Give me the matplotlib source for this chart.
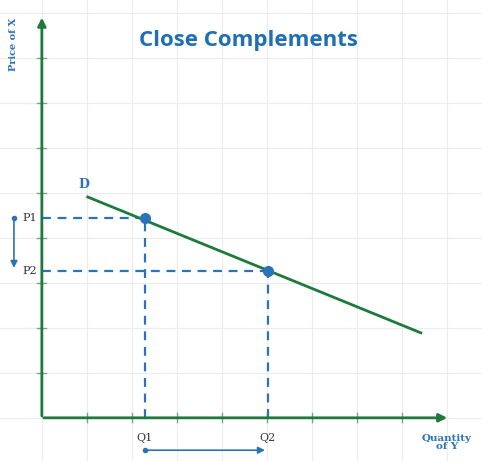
import matplotlib
matplotlib.use('Agg')
import matplotlib.pyplot as plt

# demand curve end points and the two marked points (units of grid squares)
demand_x = [1.02, 8.42]
demand_y = [4.91, 1.89]
point_q = [2.29, 5.02]
point_p = [4.44, 3.27]
q_labels = ['Q1', 'Q2']
p_labels = ['P1', 'P2']

green = '#1e7a3c'
blue = '#2a73b8'

fig = plt.figure(figsize=(4.82, 4.61), dpi=100)
ax = fig.add_axes([0, 0, 1, 1])
ax.set_xlim(-0.93, 9.78)
ax.set_ylim(-0.96, 9.29)
ax.axis('off')

# light grid
for k in range(-1, 11):
    ax.axvline(k, color='#ececec', lw=0.8, zorder=0)
    ax.axhline(k, color='#ececec', lw=0.8, zorder=0)

# axes with arrows
ax.annotate('', xy=(0, 8.96), xytext=(0, -0.02),
            arrowprops=dict(arrowstyle='-|>', color=green, lw=2, mutation_scale=12))
ax.annotate('', xy=(9.07, 0), xytext=(-0.02, 0),
            arrowprops=dict(arrowstyle='-|>', color=green, lw=2, mutation_scale=12))
for k in range(1, 9):
    ax.plot([-0.1, 0.1], [k, k], color=green, lw=1, alpha=0.6)
    ax.plot([k, k], [-0.1, 0.1], color=green, lw=1, alpha=0.6)

# demand line
ax.plot(demand_x, demand_y, color=green, lw=2, zorder=3)
ax.text(demand_x[0] - 0.2, demand_y[0] + 0.2, 'D', color=blue, fontsize=9,
        fontweight='bold', family='DejaVu Serif')

for q, p, ql, pl in zip(point_q, point_p, q_labels, p_labels):
    ax.plot([0, q], [p, p], color=blue, lw=1.6, ls=(0, (4, 3)), zorder=2)
    ax.plot([q, q], [0, p], color=blue, lw=1.6, ls=(0, (4, 3)), zorder=2)
    ax.plot(q, p, 'o', color=blue, ms=7, zorder=4)
    ax.text(-0.1, p, pl, ha='right', va='center', fontsize=8, family='DejaVu Serif', color='#333333')
    ax.text(q, -0.45, ql, ha='center', va='center', fontsize=8, family='DejaVu Serif', color='#333333')

# shift arrows
ax.annotate('', xy=(-0.62, point_p[1]), xytext=(-0.62, point_p[0]),
            arrowprops=dict(arrowstyle='-|>', color=blue, lw=1.2))
ax.plot(-0.62, point_p[0], 'o', color=blue, ms=3)
ax.annotate('', xy=(point_q[1], -0.72), xytext=(point_q[0], -0.72),
            arrowprops=dict(arrowstyle='-|>', color=blue, lw=1.2))
ax.plot(point_q[0], -0.72, 'o', color=blue, ms=3)

ax.text(-0.62, 8.9, 'Price of X', rotation=90, ha='center', va='top', fontsize=7,
        fontweight='bold', color=blue, family='DejaVu Serif')
ax.text(9.0, -0.55, 'Quantity\nof Y', ha='center', va='center', fontsize=7.5,
        fontweight='bold', color=blue, family='DejaVu Serif', linespacing=0.9)
ax.text(4.58, 8.4, 'Close Complements', ha='center', va='center', fontsize=16,
        fontweight='bold', color='#1f6fb2', family='Open Sans')

fig.savefig('out.png', dpi=100)
